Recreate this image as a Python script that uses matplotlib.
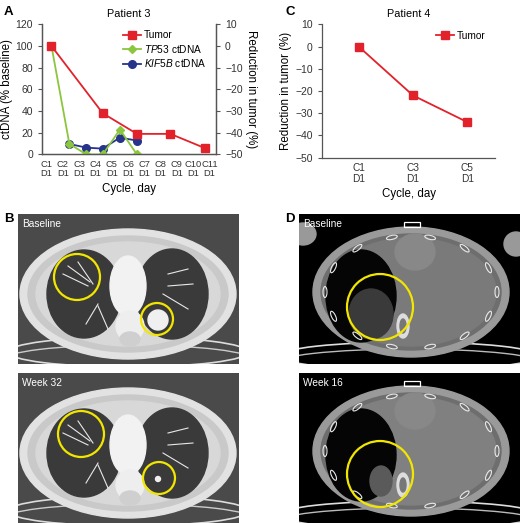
import numpy as np
import matplotlib
matplotlib.use("Agg")
import matplotlib.pyplot as plt
from matplotlib.patches import Ellipse, Circle, Rectangle

plt.rcParams['font.family'] = ['Liberation Sans', 'DejaVu Sans']
plt.rcParams['mathtext.fontset'] = 'custom'
plt.rcParams['mathtext.it'] = 'Liberation Sans:italic'
plt.rcParams['mathtext.rm'] = 'Liberation Sans'

# Patient 3 data (x in cycle index, C1 = 0)
cycle_labels_3 = ["C1\nD1", "C2\nD1", "C3\nD1", "C4\nD1", "C5\nD1", "C6\nD1",
                  "C7\nD1", "C8\nD1", "C9\nD1", "C10\nD1", "C11\nD1"]
tumor3_x = [0.3, 3.45, 5.55, 7.6, 9.7]
tumor3_y = [0, -31, -40.5, -40.5, -47]
tp53_x = [0.3, 1.4, 2.45, 3.45, 4.5, 5.55]
tp53_y = [100, 9.7, 0, 0, 23, 0]
kif5b_x = [1.4, 2.45, 3.45, 4.5, 5.55]
kif5b_y = [9.7, 6.3, 5.4, 15.6, 12.8]

# Patient 4 data
cycle_labels_4 = ["C1\nD1", "C3\nD1", "C5\nD1"]
tumor4_y = [0, -22, -34]

red = '#e2222b'
green = '#8cc63e'
blue = '#27348b'
spine_c = '#555555'
neg_labels = ['\u221250', '\u221240', '\u221230', '\u221220', '\u221210', '0', '10']

fig = plt.figure(figsize=(5.2, 5.23), dpi=100)


def style_axis(ax, xsize=7.3):
    for s in ax.spines.values():
        s.set_color(spine_c)
        s.set_linewidth(0.9)
    ax.tick_params(axis='y', colors='#333333', labelsize=7.5, length=3, width=0.8, color=spine_c)
    ax.tick_params(axis='x', colors='#333333', labelsize=xsize, length=0, pad=4)


# ---- Panel A ----
axA = fig.add_axes([0.0808, 0.7046, 0.3346, 0.2489])
axA2 = axA.twinx()
axA.set_xlim(-0.28, 10.4)
axA.set_ylim(0, 120)
axA2.set_ylim(-50, 10)
axA.set_yticks(range(0, 121, 20))
axA2.set_yticks(range(-50, 11, 10))
axA2.set_yticklabels(neg_labels)
axA.set_xticks(range(len(cycle_labels_3)))
axA.set_xticklabels(cycle_labels_3, linespacing=1.05)
axA.spines['top'].set_visible(False)
axA2.spines['top'].set_visible(False)
style_axis(axA, xsize=6.7)
style_axis(axA2, xsize=6.7)

l2, = axA.plot(tp53_x, tp53_y, color=green, lw=1.3, marker='D', ms=4.5, label=r'$\mathit{TP53}$ ctDNA', zorder=3)
l3, = axA.plot(kif5b_x, kif5b_y, color=blue, lw=1.3, marker='o', ms=5.5, label=r'$\mathit{KIF5B}$ ctDNA', zorder=2)
l1, = axA2.plot(tumor3_x, tumor3_y, color=red, lw=1.3, marker='s', ms=5.5, label='Tumor', zorder=3)
axA.set_ylabel('ctDNA (% baseline)', fontsize=8.3, labelpad=2)
axA2.set_ylabel('Reduction in tumor (%)', fontsize=8.3, rotation=270, labelpad=10)
axA.set_xlabel('Cycle, day', fontsize=8.3, labelpad=3)
axA.set_title('Patient 3', fontsize=7.8, pad=5)
axA2.legend(handles=[l1, l2, l3], loc='upper right', bbox_to_anchor=(0.98, 1.0), frameon=False,
            fontsize=7.3, handlelength=1.8, handletextpad=0.3, labelspacing=0.25, borderaxespad=0.2)

# ---- Panel C ----
axC = fig.add_axes([0.619, 0.6987, 0.3338, 0.2546])
axC.set_xlim(-0.68, 2.52)
axC.set_ylim(-50, 10)
axC.set_yticks(range(-50, 11, 10))
axC.set_yticklabels(neg_labels)
axC.set_xticks(range(len(cycle_labels_4)))
axC.set_xticklabels(cycle_labels_4, linespacing=1.05)
axC.spines['top'].set_visible(False)
axC.spines['right'].set_visible(False)
style_axis(axC)
axC.plot(range(len(tumor4_y)), tumor4_y, color=red, lw=1.3, marker='s', ms=5.5, label='Tumor')
axC.set_ylabel('Reduction in tumor (%)', fontsize=8.3, labelpad=2)
axC.set_xlabel('Cycle, day', fontsize=8.3, labelpad=3)
axC.set_title('Patient 4', fontsize=7.8, pad=5)
axC.legend(loc='upper right', bbox_to_anchor=(0.98, 1.0), frameon=False, fontsize=7.3,
           handlelength=1.8, handletextpad=0.3, borderaxespad=0.2)


# ---- CT images (schematic) ----
W, H = 221, 150


def img_axes(x0, y0):
    ax = fig.add_axes([x0 / 520, 1 - (y0 + H) / 523, W / 520, H / 523])
    ax.set_xlim(0, W)
    ax.set_ylim(H, 0)
    ax.axis('off')
    return ax


def lung_scan(ax, label, circles, small_lesion):
    ax.add_patch(Rectangle((0, 0), W, H, color='#303030'))
    ax.add_patch(Circle((110, 70), 150, color='#4a4a4a'))
    ax.add_patch(Ellipse((110, 138), 240, 30, fill=False, ec='#dddddd', lw=1.2))
    ax.add_patch(Ellipse((110, 146), 250, 30, fill=False, ec='#cccccc', lw=1.0))
    ax.add_patch(Ellipse((110, 80), 216, 130, color='#e2e2e2'))
    ax.add_patch(Ellipse((110, 80), 200, 116, color='#c9c9c9'))
    ax.add_patch(Ellipse((110, 80), 184, 104, color='#d8d8d8'))
    ax.add_patch(Ellipse((66, 80), 74, 88, color='#3a3a3a'))
    ax.add_patch(Ellipse((154, 80), 72, 90, color='#3a3a3a'))
    ax.add_patch(Ellipse((110, 72), 36, 60, color='#f2f2f2'))
    ax.add_patch(Ellipse((112, 112), 28, 30, color='#eeeeee'))
    ax.add_patch(Ellipse((112, 125), 20, 14, color='#cfcfcf'))
    vessels = [((45, 60), (70, 72)), ((50, 52), (72, 68)), ((60, 48), (75, 70)),
               ((80, 90), (68, 110)), ((80, 92), (90, 115)), ((150, 60), (170, 55)),
               ((145, 80), (170, 95)), ((150, 72), (175, 70))]
    for (a, b) in vessels:
        ax.plot([a[0], b[0]], [a[1], b[1]], color='#e8e8e8', lw=0.8)
    ax.add_patch(Circle((140, 106), small_lesion, color='#f0f0f0'))
    for (cx, cy, r) in circles:
        ax.add_patch(Circle((cx, cy), r, fill=False, ec='#f2e600', lw=1.6))
    ax.text(4, 5, label, color='white', fontsize=7.3, va='top', ha='left')


def abd_scan(ax, label, circle, later):
    ax.add_patch(Rectangle((0, 0), W, H, color='black'))
    ax.add_patch(Ellipse((110, 142), 260, 28, fill=False, ec='#dddddd', lw=1.2))
    ax.add_patch(Ellipse((110, 150), 270, 30, fill=False, ec='#bbbbbb', lw=1.0))
    if not later:
        ax.add_patch(Ellipse((4, 20), 26, 22, color='#999999'))
        ax.add_patch(Ellipse((217, 30), 24, 24, color='#999999'))
    ax.add_patch(Ellipse((112, 78), 196, 130, color='#9a9a9a'))
    ax.add_patch(Ellipse((112, 78), 180, 116, color='#6e6e6e'))
    ax.add_patch(Ellipse((112, 78), 170, 108, color='#7a7a7a' if not later else '#808080'))
    ax.add_patch(Ellipse((62, 82), 70, 92, color='#050505'))
    if not later:
        ax.add_patch(Ellipse((72, 100), 44, 50, color='#3a3a3a'))
    else:
        ax.add_patch(Ellipse((82, 108), 22, 30, color='#5a5a5a'))
    ax.add_patch(Ellipse((116, 38), 40, 36, color='#888888'))
    ax.add_patch(Rectangle((105, 8), 16, 5, fill=False, ec='white', lw=0.9))
    ax.add_patch(Ellipse((104, 112), 12, 24, color='#dddddd'))
    ax.add_patch(Ellipse((104, 112), 6, 14, color='#777777'))
    for ang in np.linspace(0, 2 * np.pi, 14, endpoint=False):
        ax.add_patch(Ellipse((112 + 86 * np.cos(ang), 78 + 56 * np.sin(ang)), 4, 11,
                             angle=np.degrees(ang), fill=False, ec='#e8e8e8', lw=0.8))
    cx, cy, r = circle
    ax.add_patch(Circle((cx, cy), r, fill=False, ec='#f2e600', lw=1.6))
    ax.text(4, 5, label, color='white', fontsize=7.3, va='top', ha='left')


lung_scan(img_axes(18, 214), 'Baseline', [(59, 63, 23), (139, 105, 16)], 10)
lung_scan(img_axes(18, 373), 'Week 32', [(63, 61, 23), (141, 105, 16)], 2.5)
abd_scan(img_axes(299, 214), 'Baseline', (81, 93, 33), False)
abd_scan(img_axes(299, 373), 'Week 16', (81, 101, 33), True)

# panel letters
for lab, (px, py) in {'A': (4, 12), 'B': (4, 219), 'C': (285, 12), 'D': (285, 219)}.items():
    fig.text(px / 520, 1 - py / 523, lab, fontsize=9.5, fontweight='bold', ha='left', va='center')

fig.savefig('out.png', dpi=100)
